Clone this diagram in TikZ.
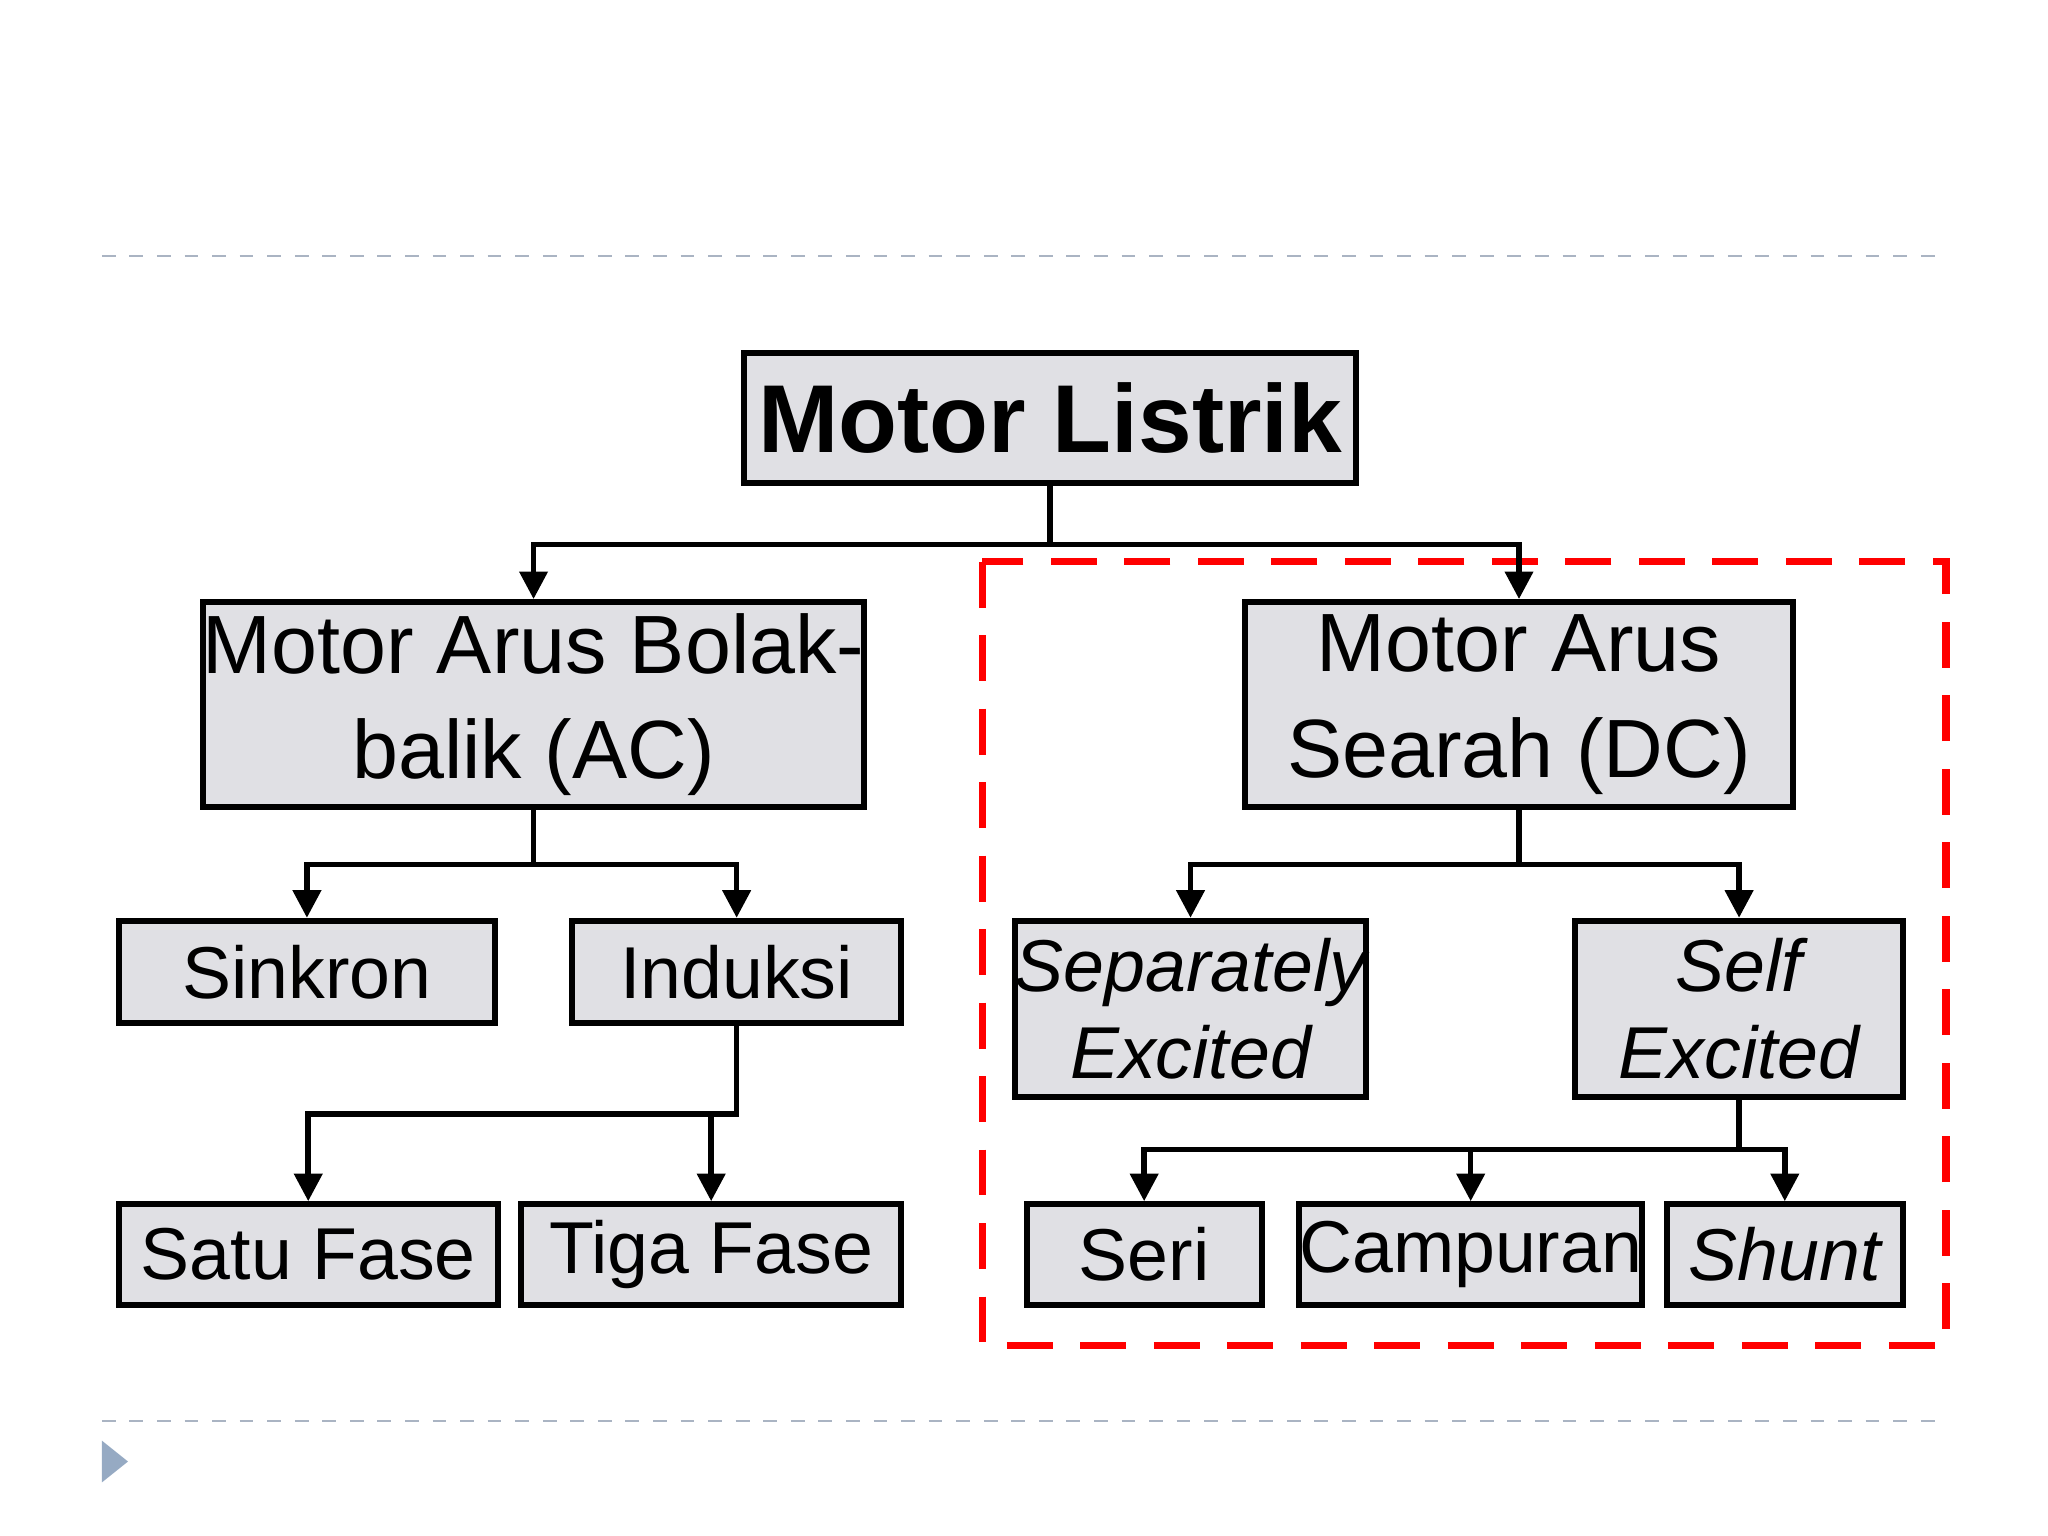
\documentclass[tikz,border=0pt]{standalone}
\usepackage{fontspec}
\setmainfont{Liberation Sans}
\usetikzlibrary{arrows.meta}
\definecolor{boxfill}{RGB}{224,224,228}
\definecolor{sep}{RGB}{170,180,195}
\definecolor{tri}{RGB}{150,170,195}
\begin{document}
\begin{tikzpicture}[x=0.01cm,y=-0.01cm,
  box/.style={draw=black,line width=1.3pt,fill=boxfill,align=center,inner sep=0pt,font=\fontsize{16}{19}\selectfont},
  conn/.style={line width=1.2pt},
  arr/.style={conn,-{Triangle[width=6pt,length=6pt]}}]
\useasboundingbox (0,0) rectangle (1568,1176);
\draw[sep,dashed,line width=0.6pt] (78,196) -- (1490,196);
\draw[sep,dashed,line width=0.6pt] (78,1088) -- (1490,1088);
\fill[tri] (78,1103) -- (98,1119) -- (78,1135) -- cycle;
\draw[red,dashed,line width=1.6pt,dash pattern=on 10pt off 6pt] (752,430) rectangle (1490,1030);

\node[box,minimum width=4.68cm,minimum height=1.0cm,font=\fontsize{21}{24}\selectfont\bfseries] (ml) at (804,320) {Motor Listrik};
\node[box,minimum width=4.67cm,minimum height=1.57cm,font=\fontsize{18}{23}\selectfont] (ac) at (408.5,539.5) {Motor Arus Bolak-\\balik (AC)};
\node[box,minimum width=4.2cm,minimum height=1.57cm,font=\fontsize{18}{23}\selectfont] (dc) at (1163,539.5) {Motor Arus\\Searah (DC)};
\node[box,minimum width=2.88cm,minimum height=0.78cm] (sk) at (235,744) {Sinkron};
\node[box,minimum width=2.52cm,minimum height=0.78cm] (in) at (564,744) {Induksi};
\node[box,minimum width=2.9cm,minimum height=0.77cm] (sf) at (236,960.5) {Satu Fase};
\node[box,minimum width=2.91cm,minimum height=0.77cm] (tf) at (544.5,960.5) {Tiga Fase};
\node[box,minimum width=2.51cm,minimum height=1.35cm] (se) at (911.5,772.5) {\itshape Separately\\\itshape Excited};
\node[box,minimum width=2.51cm,minimum height=1.35cm] (sx) at (1331.5,772.5) {\itshape Self\\\itshape Excited};
\node[box,minimum width=1.8cm,minimum height=0.77cm] (sr) at (876,960.5) {Seri};
\node[box,minimum width=2.48cm,minimum height=0.77cm] (cp) at (1126,960.5) {Campuran};
\node[box,minimum width=1.81cm,minimum height=0.77cm] (sh) at (1366.5,960.5) {\itshape Shunt};

\coordinate (j1) at (804,417);
\draw[arr] (ml.south) -- (j1) -| (ac.north);
\draw[arr] (j1) -| (dc.north);
\coordinate (j2) at (408.5,662);
\draw[arr] (ac.south) -- (j2) -| (sk.north);
\draw[arr] (j2) -| (in.north);
\coordinate (j3) at (564,853);
\draw[arr] (in.south) -- (j3) -| (sf.north);
\draw[arr] (j3) -| (tf.north);
\coordinate (j4) at (1163,662);
\draw[arr] (dc.south) -- (j4) -| (se.north);
\draw[arr] (j4) -| (sx.north);
\coordinate (j5) at (1331.5,880);
\draw[arr] (sx.south) -- (j5) -| (sr.north);
\draw[arr] (j5) -| (sh.north);
\draw[arr] (cp.north |- j5) -- (cp.north);
\end{tikzpicture}
\end{document}
